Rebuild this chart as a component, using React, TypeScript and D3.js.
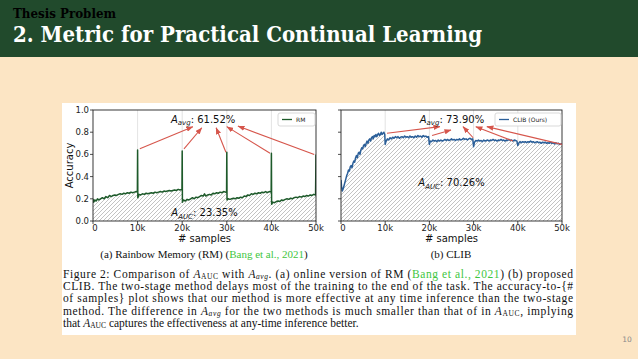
import React from 'react';
import * as d3 from 'd3';

type P = [number, number];

const xTicks = [0, 10000, 20000, 30000, 40000, 50000];
const xTickLabels = ['0', '10k', '20k', '30k', '40k', '50k'];
const yTicks = [0, 0.2, 0.4, 0.6, 0.8, 1.0];
const yTickLabels = ['0.0', '0.2', '0.4', '0.6', '0.8', '1.0'];

const rmData: P[] = [
  [0,0.2],[150,0.17],[400,0.19],[700,0.18],[1000,0.2],[1300,0.19],[1700,0.2],[2100,0.21],[2500,0.2],[2900,0.22],[3300,0.21],[3700,0.23],[4100,0.22],[4500,0.23],[4900,0.235],[5300,0.23],[5700,0.24],[6100,0.245],[6500,0.24],[6900,0.25],[7300,0.245],[7700,0.255],[8100,0.25],[8500,0.26],[8900,0.255],[9300,0.26],[9700,0.265],[9950,0.26],[10000,0.64],[10050,0.21],
  [10300,0.24],[10700,0.235],[11100,0.245],[11500,0.24],[11900,0.25],[12300,0.245],[12700,0.25],[13100,0.255],[13500,0.25],[13900,0.26],[14300,0.255],[14700,0.26],[15100,0.265],[15500,0.26],[15900,0.27],[16300,0.265],[16700,0.27],[17100,0.275],[17500,0.27],[17900,0.275],[18300,0.28],[18700,0.275],[19100,0.285],[19500,0.28],[19950,0.285],[20000,0.63],[20050,0.17],
  [20300,0.19],[20700,0.18],[21100,0.195],[21500,0.19],[21900,0.2],[22300,0.21],[22700,0.2],[23100,0.215],[23500,0.21],[23900,0.22],[24300,0.23],[24700,0.225],[25000,0.245],[25300,0.225],[25700,0.235],[26100,0.24],[26500,0.235],[26900,0.25],[27300,0.245],[27700,0.255],[28100,0.25],[28500,0.26],[28900,0.255],[29300,0.265],[29700,0.26],[29950,0.255],[30000,0.62],[30050,0.19],
  [30300,0.2],[30700,0.195],[31100,0.2],[31500,0.205],[31900,0.2],[32300,0.21],[32700,0.205],[33100,0.215],[33500,0.21],[33900,0.225],[34300,0.22],[34700,0.235],[35100,0.23],[35500,0.245],[35900,0.24],[36300,0.25],[36700,0.245],[37100,0.255],[37500,0.25],[37900,0.26],[38300,0.255],[38700,0.265],[39100,0.255],[39500,0.265],[39950,0.26],[40000,0.61],[40050,0.15],
  [40300,0.17],[40700,0.165],[41100,0.175],[41500,0.18],[41900,0.175],[42300,0.19],[42700,0.185],[43100,0.195],[43500,0.2],[43900,0.195],[44300,0.205],[44700,0.2],[45100,0.21],[45500,0.215],[45900,0.21],[46300,0.22],[46700,0.215],[47100,0.225],[47500,0.22],[47900,0.23],[48300,0.225],[48700,0.235],[49100,0.23],[49500,0.24],[49900,0.235],[50000,0.6],
];

const clibData: P[] = [
  [0,0.37],[150,0.3],[300,0.27],[500,0.29],[700,0.32],[900,0.35],[1100,0.38],[1300,0.41],[1500,0.43],[1700,0.46],[1900,0.45],[2100,0.49],[2300,0.5],[2500,0.48],[2700,0.52],[2900,0.54],[3100,0.53],[3300,0.57],[3500,0.59],[3700,0.57],[3900,0.61],[4100,0.62],[4300,0.6],[4500,0.64],[4700,0.66],[4900,0.65],[5100,0.68],[5300,0.69],[5500,0.67],[5700,0.7],[5900,0.72],[6100,0.7],[6300,0.73],[6500,0.74],[6700,0.72],[6900,0.75],[7100,0.76],[7300,0.74],[7500,0.77],[7700,0.76],[7900,0.78],[8100,0.76],[8300,0.78],[8500,0.79],[8700,0.77],[8900,0.78],[9100,0.8],[9300,0.78],[9500,0.79],[9700,0.8],[9900,0.78],[10000,0.69],
  [10200,0.72],[10500,0.74],[10800,0.73],[11100,0.75],[11400,0.74],[11700,0.755],[12000,0.745],[12300,0.76],[12600,0.75],[12900,0.76],[13200,0.745],[13500,0.755],[13800,0.76],[14100,0.75],[14400,0.765],[14700,0.755],[15000,0.76],[15300,0.75],[15600,0.765],[15900,0.755],[16200,0.76],[16500,0.75],[16800,0.765],[17100,0.755],[17400,0.77],[17700,0.76],[18000,0.765],[18300,0.755],[18600,0.77],[18900,0.76],[19200,0.765],[19500,0.755],[19800,0.76],[20000,0.69],
  [20200,0.72],[20500,0.715],[20800,0.73],[21100,0.72],[21400,0.725],[21700,0.715],[22000,0.73],[22300,0.72],[22600,0.73],[22900,0.72],[23200,0.725],[23500,0.735],[23800,0.725],[24100,0.735],[24400,0.725],[24700,0.73],[25000,0.74],[25300,0.73],[25600,0.735],[25900,0.725],[26200,0.735],[26500,0.73],[26800,0.74],[27100,0.73],[27400,0.735],[27700,0.745],[28000,0.735],[28300,0.74],[28600,0.73],[28900,0.74],[29200,0.745],[29500,0.735],[29800,0.74],[30000,0.67],
  [30200,0.71],[30500,0.725],[30800,0.72],[31100,0.73],[31400,0.72],[31700,0.725],[32000,0.715],[32300,0.73],[32600,0.72],[32900,0.725],[33200,0.73],[33500,0.72],[33800,0.73],[34100,0.725],[34400,0.735],[34700,0.725],[35000,0.73],[35300,0.72],[35600,0.73],[35900,0.725],[36200,0.735],[36500,0.725],[36800,0.73],[37100,0.72],[37400,0.73],[37700,0.725],[38000,0.735],[38300,0.725],[38600,0.73],[38900,0.72],[39200,0.73],[39500,0.725],[39800,0.72],[40000,0.68],
  [40200,0.7],[40500,0.715],[40800,0.705],[41100,0.715],[41400,0.71],[41700,0.715],[42000,0.705],[42300,0.715],[42600,0.71],[42900,0.72],[43200,0.71],[43500,0.715],[43800,0.705],[44100,0.71],[44400,0.715],[44700,0.705],[45000,0.71],[45300,0.7],[45600,0.71],[45900,0.705],[46200,0.71],[46500,0.7],[46800,0.705],[47100,0.7],[47400,0.71],[47700,0.7],[48000,0.705],[48300,0.695],[48600,0.705],[48900,0.695],[49200,0.7],[49500,0.69],[49800,0.695],[50000,0.69],
];

const rmArrowTails: P[] = [[10500,0.65],[20400,0.65],[29800,0.62],[39700,0.61],[49600,0.6]];
const rmArrowTips: P[] = [[22400,0.85],[24400,0.84],[27600,0.84],[30000,0.85],[32500,0.855]];
const clibArrowTails: P[] = [[10400,0.79],[20600,0.77],[29900,0.75],[38900,0.72],[50000,0.69]];
const clibArrowTips: P[] = [[22400,0.85],[24900,0.82],[27600,0.85],[30500,0.85],[33000,0.85]];

const rmAvg = '61.52%';
const rmAuc = '23.35%';
const clibAvg = '73.90%';
const clibAuc = '70.26%';

const SANS = 'DejaVu Sans, sans-serif';
const SERIF = 'Liberation Serif, Times New Roman, serif';
const RED = '#d6564c';

interface PanelProps {
  id: string;
  x0: number;
  x1: number;
  data: P[];
  color: string;
  label: string;
  showY: boolean;
  tails: P[];
  tips: P[];
  avg: string;
  auc: string;
  avgPos: P;
  aucPos: P;
  legendW: number;
}

function Metric({ x, y, sub, value }: { x: number; y: number; sub: string; value: string }) {
  return (
    <text x={x} y={y} textAnchor="middle" fontFamily={SANS} fontSize={10} fill="#111">
      <tspan fontStyle="italic">A</tspan>
      <tspan fontStyle="italic" fontSize={7} dy={2.5}>{sub}</tspan>
      <tspan dy={-2.5}>{': ' + value}</tspan>
    </text>
  );
}

function Panel(p: PanelProps) {
  const top = 110, bottom = 221;
  const xs = d3.scaleLinear().domain([0, 50000]).range([p.x0, p.x1]);
  const ys = d3.scaleLinear().domain([0, 1]).range([bottom, top]);
  const line = d3.line<P>().x(d => xs(d[0])).y(d => ys(d[1]));
  const area = d3.area<P>().x(d => xs(d[0])).y0(ys(0)).y1(d => ys(d[1]));
  const lx = p.x1 - 1 - p.legendW;
  return (
    <g>
      <defs>
        <clipPath id={'clip' + p.id}>
          <rect x={p.x0} y={top} width={p.x1 - p.x0} height={bottom - top} />
        </clipPath>
      </defs>
      <rect x={p.x0} y={top} width={p.x1 - p.x0} height={bottom - top} fill="#fff" />
      {xTicks.slice(1, -1).map(t => (
        <line key={'gx' + t} x1={xs(t)} x2={xs(t)} y1={top} y2={bottom} stroke="#dcdcdc" strokeWidth={0.8} />
      ))}
      <g clipPath={`url(#clip${p.id})`}>
        <path d={area(p.data) || ''} fill="url(#hatch)" />
        <path d={line(p.data) || ''} fill="none" stroke={p.color} strokeWidth={1.5} strokeLinejoin="round" />
      </g>
      <rect x={p.x0} y={top} width={p.x1 - p.x0} height={bottom - top} fill="none" stroke="#222" strokeWidth={0.9} />
      {xTicks.map((t, i) => (
        <g key={'xt' + t}>
          <line x1={xs(t)} x2={xs(t)} y1={bottom} y2={bottom + 3} stroke="#222" strokeWidth={0.8} />
          <text x={xs(t) + (i === 0 ? 2 : 0)} y={bottom + 10} textAnchor="middle" fontFamily={SANS} fontSize={8.5} fill="#222">
            {xTickLabels[i]}
          </text>
        </g>
      ))}
      {yTicks.map((t, i) => (
        <g key={'yt' + t}>
          <line x1={p.x0 - 3} x2={p.x0} y1={ys(t)} y2={ys(t)} stroke="#222" strokeWidth={0.8} />
          {p.showY && (
            <text x={p.x0 - 4} y={ys(t) + 3} textAnchor="end" fontFamily={SANS} fontSize={8.5} fill="#222">
              {yTickLabels[i]}
            </text>
          )}
        </g>
      ))}
      <text x={(p.x0 + p.x1) / 2} y={242} textAnchor="middle" fontFamily={SANS} fontSize={10} fill="#111"># samples</text>
      {p.showY && (
        <text transform={`translate(73,${(top + bottom) / 2}) rotate(-90)`} textAnchor="middle" fontFamily={SANS} fontSize={10} fill="#111">Accuracy</text>
      )}
      <rect x={lx} y={113} width={p.legendW} height={13} rx={2} fill="#fff" stroke="#cfcfcf" strokeWidth={0.8} />
      <line x1={lx + 4} x2={lx + 14} y1={119.5} y2={119.5} stroke={p.color} strokeWidth={1.3} />
      <text x={lx + 18} y={121.8} fontFamily={SANS} fontSize={6} fill="#222">{p.label}</text>
      {p.tails.map((t, i) => (
        <line key={'ar' + i} x1={xs(t[0])} y1={ys(t[1])} x2={xs(p.tips[i][0])} y2={ys(p.tips[i][1])}
          stroke={RED} strokeWidth={1.1} markerEnd="url(#arrowRed)" />
      ))}
      <Metric x={xs(p.avgPos[0])} y={ys(p.avgPos[1])} sub="avg" value={p.avg} />
      <Metric x={xs(p.aucPos[0])} y={ys(p.aucPos[1])} sub="AUC" value={p.auc} />
    </g>
  );
}

type Seg = { t: string; k?: 'i' | 'sub' | 'isub' | 'g' };

const captionLines: Seg[][] = [
  [{ t: 'Figure 2: Comparison of ' }, { t: 'A', k: 'i' }, { t: 'AUC', k: 'sub' }, { t: ' with ' }, { t: 'A', k: 'i' }, { t: 'avg', k: 'isub' }, { t: '. (a) online version of RM (' }, { t: 'Bang et al., 2021', k: 'g' }, { t: ') (b) proposed' }],
  [{ t: 'CLIB. The two-stage method delays most of the training to the end of the task. The accuracy-to-{#' }],
  [{ t: 'of samples} plot shows that our method is more effective at any time inference than the two-stage' }],
  [{ t: 'method. The difference in ' }, { t: 'A', k: 'i' }, { t: 'avg', k: 'isub' }, { t: ' for the two methods is much smaller than that of in ' }, { t: 'A', k: 'i' }, { t: 'AUC', k: 'sub' }, { t: ', implying' }],
  [{ t: 'that ' }, { t: 'A', k: 'i' }, { t: 'AUC', k: 'sub' }, { t: ' captures the effectiveness at any-time inference better.' }],
];

function renderSegs(segs: Seg[]) {
  const out: React.ReactNode[] = [];
  let shifted = false;
  segs.forEach((s, i) => {
    const isSub = s.k === 'sub' || s.k === 'isub';
    let dy = 0;
    if (isSub && !shifted) { dy = 1.2; shifted = true; }
    else if (!isSub && shifted) { dy = -1.2; shifted = false; }
    out.push(
      <tspan key={i} dy={dy || undefined}
        fontStyle={s.k === 'i' || s.k === 'isub' ? 'italic' : undefined}
        fontSize={isSub ? 7.5 : undefined}
        fill={s.k === 'g' ? '#3ec63e' : undefined}>
        {s.t}
      </tspan>
    );
  });
  return out;
}

export default function App() {
  return (
    <svg width={638} height={359} viewBox="0 0 638 359" style={{ position: 'absolute', left: 0, top: 0 }}>
      <defs>
        <pattern id="hatch" patternUnits="userSpaceOnUse" width={4} height={4}>
          <rect width={4} height={4} fill="#fff" />
          <path d="M-1,1 l2,-2 M0,4 l4,-4 M3,5 l2,-2" stroke="#9a9a9a" strokeWidth={0.6} />
        </pattern>
        <marker id="arrowRed" viewBox="0 0 8 6" refX={7.5} refY={3} markerWidth={7} markerHeight={5.5} markerUnits="userSpaceOnUse" orient="auto">
          <path d="M0,0 L8,3 L0,6 z" fill={RED} />
        </marker>
      </defs>
      <rect width={638} height={359} fill="#fce5c4" />
      <rect width={638} height={57} fill="#214a2c" />
      <text x={13} y={18} fontFamily="DejaVu Serif, serif" fontWeight="bold" fontSize={12} fill="#000" textLength={103} lengthAdjust="spacingAndGlyphs">Thesis Problem</text>
      <text x={13} y={42} fontFamily="DejaVu Serif, serif" fontWeight="bold" fontSize={23} fill="#fff" textLength={469} lengthAdjust="spacingAndGlyphs">2. Metric for Practical Continual Learning</text>

      <rect x={62} y={103} width={514} height={232} fill="#fff" />

      <Panel id="a" x0={93} x1={316} data={rmData} color="#1d5a2a" label="RM" showY={true}
        tails={rmArrowTails} tips={rmArrowTips} avg={rmAvg} auc={rmAuc}
        avgPos={[24700, 0.885]} aucPos={[25000, 0.045]} legendW={37} />
      <Panel id="b" x0={341} x1={562} data={clibData} color="#2b5f99" label="CLIB (Ours)" showY={false}
        tails={clibArrowTails} tips={clibArrowTips} avg={clibAvg} auc={clibAuc}
        avgPos={[25100, 0.885]} aucPos={[25000, 0.315]} legendW={66} />

      <text x={204} y={258} textAnchor="middle" fontFamily={SERIF} fontSize={11} fill="#111">
        (a) Rainbow Memory (RM) (<tspan fill="#3ec63e">Bang et al., 2021</tspan>)
      </text>
      <text x={451} y={258} textAnchor="middle" fontFamily={SERIF} fontSize={11} fill="#111">(b) CLIB</text>

      {captionLines.map((segs, i) => (
        <text key={i} x={63} y={278 + i * 12.2} fontFamily={SERIF} fontSize={11.5} fill="#111"
          textLength={i < captionLines.length - 1 ? 510 : undefined}
          lengthAdjust={i < captionLines.length - 1 ? 'spacing' : undefined}>
          {renderSegs(segs)}
        </text>
      ))}

      <text x={627} y={342} textAnchor="middle" fontFamily={SANS} fontSize={7.5} fill="#8a8a8a">10</text>
    </svg>
  );
}
